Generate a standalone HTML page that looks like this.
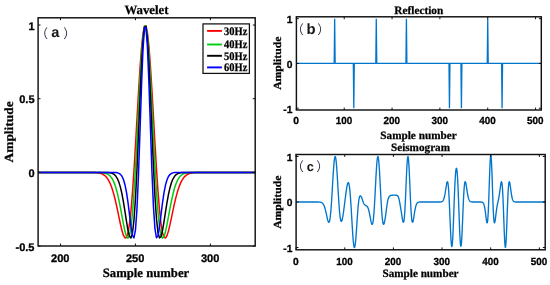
<!DOCTYPE html>
<html lang="en"><head><meta charset="utf-8"><title>Wavelet, Reflection, Seismogram</title>
<style>html,body{margin:0;padding:0;background:#fff}svg{display:block;text-rendering:geometricPrecision}.t{font-family:"Liberation Sans",sans-serif;font-weight:bold;fill:#000;stroke:#000;stroke-width:.3px}.s{font-family:"Liberation Serif",serif;font-weight:bold;fill:#000;stroke:#000;stroke-width:.25px}.p{font-family:"Liberation Sans","Noto Sans CJK SC",sans-serif;fill:#1a1a1a}</style></head><body>
<svg width="550" height="285" viewBox="0 0 550 285">
<rect width="550" height="285" fill="#fff"/>
<g fill="none" stroke-width="1.5" stroke-linejoin="round">
<polyline stroke="#ff0000" points="38.02,172.4 39.51,172.4 41.01,172.4 42.51,172.4 44.01,172.4 45.51,172.4 47.01,172.4 48.51,172.4 50.01,172.4 51.51,172.4 53,172.4 54.5,172.4 56,172.4 57.5,172.4 59,172.4 60.5,172.4 62,172.4 63.5,172.4 65,172.4 66.5,172.4 68,172.4 69.49,172.4 70.99,172.4 72.49,172.4 73.99,172.4 75.49,172.4 76.99,172.4 78.49,172.4 79.99,172.4 81.49,172.4 82.98,172.4 84.48,172.4 85.98,172.41 87.48,172.41 88.98,172.42 90.48,172.43 91.98,172.46 93.48,172.5 94.98,172.57 96.48,172.68 97.97,172.85 99.47,173.12 100.97,173.52 102.47,174.12 103.97,174.98 105.47,176.2 106.97,177.87 108.47,180.11 109.97,183.04 111.47,186.75 112.97,191.33 114.46,196.78 115.96,203.03 117.46,209.93 118.96,217.14 120.46,224.22 121.96,230.56 123.46,235.41 124.96,237.98 126.46,237.43 127.95,233.02 129.45,224.21 130.95,210.74 132.45,192.72 133.95,170.73 135.45,145.78 136.95,119.3 138.45,93.03 139.95,68.85 141.45,48.63 142.94,33.99 144.44,26.15 145.94,25.77 147.44,32.88 148.94,46.89 150.44,66.62 151.94,90.48 153.44,116.63 154.94,143.17 156.44,168.34 157.94,190.69 159.43,209.13 160.93,223.08 162.43,232.35 163.93,237.17 165.43,238.07 166.93,235.78 168.43,231.12 169.93,224.9 171.43,217.87 172.93,210.64 174.42,203.7 175.92,197.37 177.42,191.83 178.92,187.17 180.42,183.37 181.92,180.37 183.42,178.07 184.92,176.34 186.42,175.09 187.92,174.2 189.41,173.57 190.91,173.15 192.41,172.87 193.91,172.69 195.41,172.58 196.91,172.5 198.41,172.46 199.91,172.43 201.41,172.42 202.91,172.41 204.4,172.41 205.9,172.4 207.4,172.4 208.9,172.4 210.4,172.4 211.9,172.4 213.4,172.4 214.9,172.4 216.4,172.4 217.9,172.4 219.39,172.4 220.89,172.4 222.39,172.4 223.89,172.4 225.39,172.4 226.89,172.4 228.39,172.4 229.89,172.4 231.39,172.4 232.89,172.4 234.38,172.4 235.88,172.4 237.38,172.4 238.88,172.4 240.38,172.4 241.88,172.4 243.38,172.4 244.88,172.4 246.38,172.4 247.88,172.4 249.37,172.4 250.87,172.4 252.37,172.4 253.87,172.4 255.37,172.4"/>
<polyline stroke="#00cc10" points="38.02,172.4 39.51,172.4 41.01,172.4 42.51,172.4 44.01,172.4 45.51,172.4 47.01,172.4 48.51,172.4 50.01,172.4 51.51,172.4 53,172.4 54.5,172.4 56,172.4 57.5,172.4 59,172.4 60.5,172.4 62,172.4 63.5,172.4 65,172.4 66.5,172.4 68,172.4 69.49,172.4 70.99,172.4 72.49,172.4 73.99,172.4 75.49,172.4 76.99,172.4 78.49,172.4 79.99,172.4 81.49,172.4 82.98,172.4 84.48,172.4 85.98,172.4 87.48,172.4 88.98,172.4 90.48,172.4 91.98,172.4 93.48,172.41 94.98,172.41 96.48,172.42 97.97,172.45 99.47,172.49 100.97,172.56 102.47,172.69 103.97,172.9 105.47,173.24 106.97,173.78 108.47,174.61 109.97,175.86 111.47,177.66 112.97,180.18 114.46,183.6 115.96,188.05 117.46,193.62 118.96,200.31 120.46,207.93 121.96,216.09 123.46,224.17 124.96,231.29 126.46,236.36 127.95,238.17 129.45,235.55 130.95,227.51 132.45,213.5 133.95,193.55 135.45,168.43 136.95,139.64 138.45,109.39 139.95,80.31 141.45,55.18 142.94,36.58 144.44,26.49 145.94,26 147.44,35.16 148.94,52.99 150.44,77.57 151.94,106.38 153.44,136.64 154.94,165.68 156.44,191.25 157.94,211.76 159.43,226.38 160.93,235 162.43,238.13 163.93,236.71 165.43,231.91 166.93,224.95 168.43,216.92 169.93,208.73 171.43,201.04 172.93,194.24 174.42,188.55 175.92,183.99 177.42,180.48 178.92,177.88 180.42,176.01 181.92,174.72 183.42,173.85 184.92,173.28 186.42,172.92 187.92,172.7 189.41,172.57 190.91,172.49 192.41,172.45 193.91,172.43 195.41,172.41 196.91,172.41 198.41,172.4 199.91,172.4 201.41,172.4 202.91,172.4 204.4,172.4 205.9,172.4 207.4,172.4 208.9,172.4 210.4,172.4 211.9,172.4 213.4,172.4 214.9,172.4 216.4,172.4 217.9,172.4 219.39,172.4 220.89,172.4 222.39,172.4 223.89,172.4 225.39,172.4 226.89,172.4 228.39,172.4 229.89,172.4 231.39,172.4 232.89,172.4 234.38,172.4 235.88,172.4 237.38,172.4 238.88,172.4 240.38,172.4 241.88,172.4 243.38,172.4 244.88,172.4 246.38,172.4 247.88,172.4 249.37,172.4 250.87,172.4 252.37,172.4 253.87,172.4 255.37,172.4"/>
<polyline stroke="#000000" points="38.02,172.4 39.51,172.4 41.01,172.4 42.51,172.4 44.01,172.4 45.51,172.4 47.01,172.4 48.51,172.4 50.01,172.4 51.51,172.4 53,172.4 54.5,172.4 56,172.4 57.5,172.4 59,172.4 60.5,172.4 62,172.4 63.5,172.4 65,172.4 66.5,172.4 68,172.4 69.49,172.4 70.99,172.4 72.49,172.4 73.99,172.4 75.49,172.4 76.99,172.4 78.49,172.4 79.99,172.4 81.49,172.4 82.98,172.4 84.48,172.4 85.98,172.4 87.48,172.4 88.98,172.4 90.48,172.4 91.98,172.4 93.48,172.4 94.98,172.4 96.48,172.4 97.97,172.4 99.47,172.4 100.97,172.4 102.47,172.41 103.97,172.42 105.47,172.45 106.97,172.5 108.47,172.6 109.97,172.79 111.47,173.13 112.97,173.72 114.46,174.72 115.96,176.32 117.46,178.77 118.96,182.36 120.46,187.36 121.96,193.93 123.46,202.06 124.96,211.4 126.46,221.15 127.95,230.05 129.45,236.35 130.95,238.05 132.45,233.19 133.95,220.3 135.45,198.91 136.95,169.87 138.45,135.54 139.95,99.63 141.45,66.67 142.94,41.24 144.44,27.1 145.94,26.41 147.44,39.27 148.94,63.72 150.44,96.13 151.94,131.95 153.44,166.62 154.94,196.32 156.44,218.54 157.94,232.28 159.43,237.89 160.93,236.77 162.43,230.83 163.93,222.11 165.43,212.37 166.93,202.95 168.43,194.68 169.93,187.94 171.43,182.79 172.93,179.08 174.42,176.52 175.92,174.85 177.42,173.8 178.92,173.17 180.42,172.81 181.92,172.61 183.42,172.5 184.92,172.45 186.42,172.42 187.92,172.41 189.41,172.4 190.91,172.4 192.41,172.4 193.91,172.4 195.41,172.4 196.91,172.4 198.41,172.4 199.91,172.4 201.41,172.4 202.91,172.4 204.4,172.4 205.9,172.4 207.4,172.4 208.9,172.4 210.4,172.4 211.9,172.4 213.4,172.4 214.9,172.4 216.4,172.4 217.9,172.4 219.39,172.4 220.89,172.4 222.39,172.4 223.89,172.4 225.39,172.4 226.89,172.4 228.39,172.4 229.89,172.4 231.39,172.4 232.89,172.4 234.38,172.4 235.88,172.4 237.38,172.4 238.88,172.4 240.38,172.4 241.88,172.4 243.38,172.4 244.88,172.4 246.38,172.4 247.88,172.4 249.37,172.4 250.87,172.4 252.37,172.4 253.87,172.4 255.37,172.4"/>
<polyline stroke="#0000ff" points="38.02,172.4 39.51,172.4 41.01,172.4 42.51,172.4 44.01,172.4 45.51,172.4 47.01,172.4 48.51,172.4 50.01,172.4 51.51,172.4 53,172.4 54.5,172.4 56,172.4 57.5,172.4 59,172.4 60.5,172.4 62,172.4 63.5,172.4 65,172.4 66.5,172.4 68,172.4 69.49,172.4 70.99,172.4 72.49,172.4 73.99,172.4 75.49,172.4 76.99,172.4 78.49,172.4 79.99,172.4 81.49,172.4 82.98,172.4 84.48,172.4 85.98,172.4 87.48,172.4 88.98,172.4 90.48,172.4 91.98,172.4 93.48,172.4 94.98,172.4 96.48,172.4 97.97,172.4 99.47,172.4 100.97,172.4 102.47,172.4 103.97,172.4 105.47,172.4 106.97,172.4 108.47,172.4 109.97,172.4 111.47,172.41 112.97,172.43 114.46,172.48 115.96,172.59 117.46,172.84 118.96,173.37 120.46,174.4 121.96,176.29 123.46,179.54 124.96,184.69 126.46,192.21 127.95,202.23 129.45,214.11 130.95,226.13 132.45,235.36 133.95,237.98 135.45,230.1 136.95,209.18 138.45,175.39 139.95,132.53 141.45,87.79 142.94,50.24 144.44,28.32 145.94,27.23 147.44,47.23 148.94,83.56 150.44,128 151.94,171.42 153.44,206.35 154.94,228.62 156.44,237.72 157.94,235.99 159.43,227.23 160.93,215.34 162.43,203.35 163.93,193.11 165.43,185.33 166.93,179.96 168.43,176.55 169.93,174.54 171.43,173.44 172.93,172.88 174.42,172.61 175.92,172.49 177.42,172.43 178.92,172.41 180.42,172.4 181.92,172.4 183.42,172.4 184.92,172.4 186.42,172.4 187.92,172.4 189.41,172.4 190.91,172.4 192.41,172.4 193.91,172.4 195.41,172.4 196.91,172.4 198.41,172.4 199.91,172.4 201.41,172.4 202.91,172.4 204.4,172.4 205.9,172.4 207.4,172.4 208.9,172.4 210.4,172.4 211.9,172.4 213.4,172.4 214.9,172.4 216.4,172.4 217.9,172.4 219.39,172.4 220.89,172.4 222.39,172.4 223.89,172.4 225.39,172.4 226.89,172.4 228.39,172.4 229.89,172.4 231.39,172.4 232.89,172.4 234.38,172.4 235.88,172.4 237.38,172.4 238.88,172.4 240.38,172.4 241.88,172.4 243.38,172.4 244.88,172.4 246.38,172.4 247.88,172.4 249.37,172.4 250.87,172.4 252.37,172.4 253.87,172.4 255.37,172.4"/>
</g>
<rect x="38.1" y="17.8" width="217.1" height="228.2" fill="none" stroke="#111" stroke-width="1.45"/>
<path d="M60.5 246v-2.4 M60.5 17.8v2.4 M135.45 246v-2.4 M135.45 17.8v2.4 M210.4 246v-2.4 M210.4 17.8v2.4 M38.1 246.1h2.4 M255.2 246.1h-2.4 M38.1 172.4h2.4 M255.2 172.4h-2.4 M38.1 98.7h2.4 M255.2 98.7h-2.4 M38.1 25h2.4 M255.2 25h-2.4" stroke="#111" stroke-width="1" fill="none"/>
<rect x="203" y="23.9" width="46.4" height="49.5" fill="#fff" stroke="#111" stroke-width="1.25"/>
<path d="M207.1 30.9H221.9" stroke="#ff0000" stroke-width="1.9"/>
<text class="s" x="224" y="34.8" font-size="11.5" textLength="23.3" lengthAdjust="spacingAndGlyphs">30Hz</text>
<path d="M207.1 44.5H221.9" stroke="#00cc10" stroke-width="1.9"/>
<text class="s" x="224" y="48" font-size="11.5" textLength="23.3" lengthAdjust="spacingAndGlyphs">40Hz</text>
<path d="M207.1 55.8H221.9" stroke="#000000" stroke-width="1.9"/>
<text class="s" x="224" y="59.6" font-size="11.5" textLength="23.3" lengthAdjust="spacingAndGlyphs">50Hz</text>
<path d="M207.1 67.4H221.9" stroke="#0000ff" stroke-width="1.9"/>
<text class="s" x="224" y="71.2" font-size="11.5" textLength="23.3" lengthAdjust="spacingAndGlyphs">60Hz</text>
<text class="t" x="34.5" y="29.6" font-size="11" text-anchor="end">1</text>
<text class="t" x="34.5" y="103.3" font-size="11" text-anchor="end">0.5</text>
<text class="t" x="34.5" y="177" font-size="11" text-anchor="end">0</text>
<text class="t" x="34.5" y="250.7" font-size="11" text-anchor="end">-0.5</text>
<text class="t" x="60.2" y="262.1" font-size="11" text-anchor="middle">200</text>
<text class="t" x="135.15" y="262.1" font-size="11" text-anchor="middle">250</text>
<text class="t" x="210.1" y="262.1" font-size="11" text-anchor="middle">300</text>
<text class="s" x="146.5" y="14.2" font-size="12.8" text-anchor="middle">Wavelet</text>
<text class="s" x="146" y="276.6" font-size="12.7" text-anchor="middle">Sample number</text>
<text class="s" transform="translate(13.4 131.9) rotate(-90)" font-size="12.4" text-anchor="middle" textLength="61" lengthAdjust="spacingAndGlyphs">Amplitude</text>
<text class="p"><tspan x="35.5" y="37.6" font-size="12.6" font-weight="400" fill="#2b3345">（</tspan><tspan x="51.3" y="37" font-size="14.6" font-weight="bold" fill="#151515">a</tspan><tspan x="63.3" y="37.6" font-size="12.6" font-weight="400" fill="#2b3345">）</tspan></text>
<polyline fill="none" stroke="#0075cc" stroke-width="1.3" stroke-linejoin="miter" points="296.4,63.45 334.19,63.45 334.67,18.7 335.14,63.45 353.32,63.45 353.8,108.2 354.28,63.45 375.8,63.45 376.28,18.7 376.76,63.45 405.94,63.45 406.41,18.7 406.89,63.45 448.98,63.45 449.46,108.2 449.94,63.45 460.94,63.45 461.42,108.2 461.9,63.45 487.25,63.45 487.73,18.7 488.21,63.45 501.6,63.45 502.08,108.2 502.56,63.45 541.3,63.45"/>
<rect x="296.4" y="16.8" width="244.9" height="93.2" fill="none" stroke="#111" stroke-width="1.45"/>
<path d="M296.4 110v-2.4 M296.4 16.8v2.4 M344.23 110v-2.4 M344.23 16.8v2.4 M392.06 110v-2.4 M392.06 16.8v2.4 M439.9 110v-2.4 M439.9 16.8v2.4 M487.73 110v-2.4 M487.73 16.8v2.4 M535.56 110v-2.4 M535.56 16.8v2.4 M296.4 108.2h2.4 M541.3 108.2h-2.4 M296.4 63.45h2.4 M541.3 63.45h-2.4 M296.4 18.7h2.4 M541.3 18.7h-2.4" stroke="#111" stroke-width="1" fill="none"/>
<text class="t" x="292.4" y="23.2" font-size="10.3" text-anchor="end">1</text>
<text class="t" x="292.4" y="67.95" font-size="10.3" text-anchor="end">0</text>
<text class="t" x="292.4" y="112.7" font-size="10.3" text-anchor="end">-1</text>
<text class="t" x="296.2" y="124.3" font-size="10.3" text-anchor="middle">0</text>
<text class="t" x="344.03" y="124.3" font-size="10.3" text-anchor="middle" textLength="16.5" lengthAdjust="spacingAndGlyphs">100</text>
<text class="t" x="391.86" y="124.3" font-size="10.3" text-anchor="middle" textLength="16.5" lengthAdjust="spacingAndGlyphs">200</text>
<text class="t" x="439.7" y="124.3" font-size="10.3" text-anchor="middle" textLength="16.5" lengthAdjust="spacingAndGlyphs">300</text>
<text class="t" x="487.53" y="124.3" font-size="10.3" text-anchor="middle" textLength="16.5" lengthAdjust="spacingAndGlyphs">400</text>
<text class="t" x="535.36" y="124.3" font-size="10.3" text-anchor="middle" textLength="16.5" lengthAdjust="spacingAndGlyphs">500</text>
<text class="s" x="418.8" y="14" font-size="11.3" text-anchor="middle">Reflection</text>
<text class="s" x="418.5" y="139.1" font-size="11.2" text-anchor="middle" textLength="76.4" lengthAdjust="spacingAndGlyphs">Sample number</text>
<text class="s" transform="translate(281.4 63.2) rotate(-90)" font-size="10.9" text-anchor="middle" textLength="53.3" lengthAdjust="spacingAndGlyphs">Amplitude</text>
<text class="p"><tspan x="291.3" y="33.5" font-size="12.6" font-weight="400" fill="#2b3345">（</tspan><tspan x="306.6" y="33.8" font-size="14.8" font-weight="bold" fill="#151515">b</tspan><tspan x="317.3" y="33.5" font-size="12.6" font-weight="400" fill="#2b3345">）</tspan></text>
<polyline fill="none" stroke="#0075cc" stroke-width="1.35" stroke-linejoin="round" points="296.1,202 296.34,202 296.59,202 296.83,202 297.07,202 297.32,202 297.56,202 297.8,202 298.05,202 298.29,202 298.53,202 298.78,202 299.02,202 299.26,202 299.51,202 299.75,202 299.99,202 300.24,202 300.48,202 300.72,202 300.97,202 301.21,202 301.45,202 301.69,202 301.94,202 302.18,202 302.42,202 302.67,202 302.91,202 303.15,202 303.4,202 303.64,202 303.88,202 304.13,202 304.37,202 304.61,202 304.86,202 305.1,202 305.34,202 305.59,202 305.83,202 306.07,202 306.32,202 306.56,202 306.8,202 307.05,202 307.29,202 307.53,202 307.78,202 308.02,202 308.26,202 308.51,202 308.75,202 308.99,202 309.24,202 309.48,202 309.72,202 309.97,202 310.21,202 310.45,202 310.7,202 310.94,202 311.18,202 311.43,202 311.67,202 311.91,202 312.16,202 312.4,202 312.64,202 312.88,202 313.13,202 313.37,202 313.61,202 313.86,202 314.1,202 314.34,202 314.59,202 314.83,202 315.07,202 315.32,202 315.56,202 315.8,202 316.05,202 316.29,202 316.53,202 316.78,202 317.02,202 317.26,202.01 317.51,202.01 317.75,202.01 317.99,202.02 318.24,202.02 318.48,202.03 318.72,202.03 318.97,202.05 319.21,202.06 319.45,202.08 319.7,202.1 319.94,202.12 320.18,202.16 320.43,202.2 320.67,202.25 320.91,202.32 321.16,202.4 321.4,202.49 321.64,202.61 321.89,202.75 322.13,202.91 322.37,203.11 322.62,203.34 322.86,203.61 323.1,203.92 323.35,204.28 323.59,204.7 323.83,205.17 324.07,205.71 324.32,206.31 324.56,206.98 324.8,207.72 325.05,208.53 325.29,209.41 325.53,210.36 325.78,211.36 326.02,212.42 326.26,213.52 326.51,214.64 326.75,215.78 326.99,216.9 327.24,217.99 327.48,219.03 327.72,219.98 327.97,220.81 328.21,221.49 328.45,221.98 328.7,222.26 328.94,222.28 329.18,222.03 329.43,221.46 329.67,220.56 329.91,219.3 330.16,217.67 330.4,215.67 330.64,213.3 330.89,210.57 331.13,207.5 331.37,204.12 331.62,200.47 331.86,196.59 332.1,192.55 332.35,188.4 332.59,184.22 332.83,180.08 333.08,176.06 333.32,172.23 333.56,168.68 333.81,165.46 334.05,162.66 334.29,160.33 334.54,158.52 334.78,157.27 335.02,156.61 335.26,156.55 335.51,157.09 335.75,158.22 335.99,159.92 336.24,162.15 336.48,164.86 336.72,168 336.97,171.49 337.21,175.26 337.45,179.25 337.7,183.36 337.94,187.53 338.18,191.68 338.43,195.74 338.67,199.64 338.91,203.32 339.16,206.73 339.4,209.83 339.64,212.59 339.89,214.99 340.13,217 340.37,218.62 340.62,219.86 340.86,220.72 341.1,221.22 341.35,221.38 341.59,221.22 341.83,220.77 342.08,220.05 342.32,219.1 342.56,217.95 342.81,216.61 343.05,215.13 343.29,213.52 343.54,211.82 343.78,210.02 344.02,208.17 344.27,206.27 344.51,204.34 344.75,202.39 345,200.44 345.24,198.5 345.48,196.59 345.73,194.71 345.97,192.89 346.21,191.15 346.45,189.5 346.7,187.96 346.94,186.57 347.18,185.34 347.43,184.3 347.67,183.49 347.91,182.93 348.16,182.65 348.4,182.68 348.64,183.03 348.89,183.75 349.13,184.84 349.37,186.3 349.62,188.16 349.86,190.4 350.1,193.02 350.35,195.99 350.59,199.28 350.83,202.86 351.08,206.68 351.32,210.68 351.56,214.8 351.81,218.97 352.05,223.12 352.29,227.17 352.54,231.04 352.78,234.65 353.02,237.94 353.27,240.83 353.51,243.26 353.75,245.19 354,246.57 354.24,247.37 354.48,247.58 354.73,247.2 354.97,246.24 355.21,244.72 355.46,242.7 355.7,240.21 355.94,237.33 356.19,234.13 356.43,230.69 356.67,227.08 356.92,223.4 357.16,219.73 357.4,216.15 357.64,212.74 357.89,209.56 358.13,206.67 358.37,204.1 358.62,201.89 358.86,200.04 359.1,198.57 359.35,197.44 359.59,196.65 359.83,196.14 360.08,195.89 360.32,195.84 360.56,195.95 360.81,196.16 361.05,196.44 361.29,196.82 361.54,197.33 361.78,197.94 362.02,198.61 362.27,199.32 362.51,200.05 362.75,200.77 363,201.46 363.24,202.11 363.48,202.71 363.73,203.25 363.97,203.72 364.21,204.13 364.46,204.47 364.7,204.76 364.94,204.99 365.19,205.17 365.43,205.32 365.67,205.45 365.92,205.56 366.16,205.67 366.4,205.8 366.65,205.95 366.89,206.15 367.13,206.39 367.38,206.71 367.62,207.1 367.86,207.58 368.1,208.15 368.35,208.83 368.59,209.62 368.83,210.51 369.08,211.52 369.32,212.61 369.56,213.8 369.81,215.06 370.05,216.36 370.29,217.69 370.54,219 370.78,220.27 371.02,221.45 371.27,222.49 371.51,223.36 371.75,223.99 372,224.35 372.24,224.39 372.48,224.07 372.73,223.34 372.97,222.18 373.21,220.56 373.46,218.48 373.7,215.93 373.94,212.92 374.19,209.49 374.43,205.67 374.67,201.51 374.92,197.08 375.16,192.46 375.4,187.74 375.65,183.01 375.89,178.39 376.13,173.96 376.38,169.85 376.62,166.14 376.86,162.94 377.11,160.32 377.35,158.35 377.59,157.08 377.84,156.55 378.08,156.77 378.32,157.73 378.57,159.4 378.81,161.75 379.05,164.71 379.29,168.21 379.54,172.15 379.78,176.43 380.02,180.96 380.27,185.63 380.51,190.34 380.75,194.99 381,199.49 381.24,203.76 381.48,207.72 381.73,211.32 381.97,214.52 382.21,217.27 382.46,219.57 382.7,221.4 382.94,222.77 383.19,223.68 383.43,224.17 383.67,224.26 383.92,223.99 384.16,223.4 384.4,222.53 384.65,221.43 384.89,220.13 385.13,218.68 385.38,217.1 385.62,215.42 385.86,213.66 386.11,211.83 386.35,209.96 386.59,208.08 386.84,206.25 387.08,204.51 387.32,202.93 387.57,201.54 387.81,200.36 388.05,199.36 388.3,198.55 388.54,197.88 388.78,197.35 389.03,196.91 389.27,196.56 389.51,196.27 389.76,196.04 390,195.86 390.24,195.71 390.48,195.59 390.73,195.5 390.97,195.43 391.21,195.37 391.46,195.32 391.7,195.29 391.94,195.26 392.19,195.24 392.43,195.22 392.67,195.21 392.92,195.2 393.16,195.19 393.4,195.19 393.65,195.19 393.89,195.18 394.13,195.18 394.38,195.18 394.62,195.18 394.86,195.19 395.11,195.19 395.35,195.2 395.59,195.21 395.84,195.22 396.08,195.24 396.32,195.27 396.57,195.31 396.81,195.38 397.05,195.46 397.3,195.59 397.54,195.76 397.78,196.01 398.03,196.34 398.27,196.79 398.51,197.38 398.76,198.13 399,199.06 399.24,200.13 399.49,201.33 399.73,202.62 399.97,203.96 400.22,205.33 400.46,206.72 400.7,208.16 400.95,209.64 401.19,211.18 401.43,212.77 401.67,214.39 401.92,216.01 402.16,217.58 402.4,219.05 402.65,220.34 402.89,221.36 403.13,222.05 403.38,222.3 403.62,222.03 403.86,221.16 404.11,219.65 404.35,217.43 404.59,214.5 404.84,210.87 405.08,206.58 405.32,201.72 405.57,196.41 405.81,190.78 406.05,185 406.3,179.28 406.54,173.82 406.78,168.81 407.03,164.45 407.27,160.92 407.51,158.36 407.76,156.87 408,156.52 408.24,157.33 408.49,159.26 408.73,162.22 408.97,166.1 409.22,170.74 409.46,175.96 409.7,181.55 409.95,187.32 410.19,193.05 410.43,198.58 410.68,203.73 410.92,208.37 411.16,212.4 411.41,215.76 411.65,218.4 411.89,220.34 412.14,221.59 412.38,222.21 412.62,222.26 412.86,221.84 413.11,221.01 413.35,219.89 413.59,218.54 413.84,217.05 414.08,215.49 414.32,213.92 414.57,212.4 414.81,210.95 415.05,209.61 415.3,208.39 415.54,207.31 415.78,206.36 416.03,205.54 416.27,204.84 416.51,204.25 416.76,203.77 417,203.38 417.24,203.06 417.49,202.81 417.73,202.61 417.97,202.45 418.22,202.34 418.46,202.25 418.7,202.18 418.95,202.13 419.19,202.09 419.43,202.06 419.68,202.04 419.92,202.03 420.16,202.02 420.41,202.01 420.65,202.01 420.89,202.01 421.14,202 421.38,202 421.62,202 421.87,202 422.11,202 422.35,202 422.6,202 422.84,202 423.08,202 423.32,202 423.57,202 423.81,202 424.05,202 424.3,202 424.54,202 424.78,202 425.03,202 425.27,202 425.51,202 425.76,202 426,202 426.24,202 426.49,202 426.73,202 426.97,202 427.22,202 427.46,202 427.7,202 427.95,202 428.19,202 428.43,202 428.68,202 428.92,202 429.16,202 429.41,202 429.65,202 429.89,202 430.14,202 430.38,202 430.62,202 430.87,202 431.11,202 431.35,202 431.6,202 431.84,202 432.08,202 432.33,202 432.57,202 432.81,202 433.06,202 433.3,202 433.54,202 433.79,202 434.03,202 434.27,202 434.51,202 434.76,202 435,202 435.24,202 435.49,202 435.73,202 435.97,202 436.22,202 436.46,202 436.7,202 436.95,202 437.19,202 437.43,202 437.68,202 437.92,202 438.16,202 438.41,202 438.65,202 438.89,202 439.14,201.99 439.38,201.99 439.62,201.99 439.87,201.98 440.11,201.97 440.35,201.96 440.6,201.94 440.84,201.92 441.08,201.88 441.33,201.83 441.57,201.76 441.81,201.67 442.06,201.56 442.3,201.4 442.54,201.2 442.79,200.94 443.03,200.62 443.27,200.22 443.52,199.72 443.76,199.11 444,198.39 444.25,197.54 444.49,196.55 444.73,195.42 444.98,194.15 445.22,192.76 445.46,191.26 445.7,189.69 445.95,188.09 446.19,186.51 446.43,185.02 446.68,183.71 446.92,182.65 447.16,181.95 447.41,181.69 447.65,181.98 447.89,182.88 448.14,184.47 448.38,186.79 448.62,189.85 448.87,193.64 449.11,198.1 449.35,203.14 449.6,208.63 449.84,214.41 450.08,220.28 450.33,226.04 450.57,231.47 450.81,236.34 451.06,240.45 451.3,243.61 451.54,245.67 451.79,246.54 452.03,246.15 452.27,244.5 452.52,241.65 452.76,237.68 453,232.76 453.25,227.06 453.49,220.79 453.73,214.17 453.98,207.44 454.22,200.81 454.46,194.48 454.71,188.61 454.95,183.36 455.19,178.81 455.44,175.03 455.68,172.07 455.92,169.95 456.17,168.67 456.41,168.24 456.65,168.66 456.89,169.94 457.14,172.1 457.38,175.11 457.62,178.98 457.87,183.66 458.11,189.07 458.35,195.11 458.6,201.62 458.84,208.43 459.08,215.3 459.33,222.01 459.57,228.3 459.81,233.95 460.06,238.73 460.3,242.45 460.54,244.97 460.79,246.21 461.03,246.12 461.27,244.74 461.52,242.14 461.76,238.45 462,233.87 462.25,228.59 462.49,222.85 462.73,216.88 462.98,210.92 463.22,205.18 463.46,199.84 463.71,195.07 463.95,190.96 464.19,187.61 464.44,185.02 464.68,183.21 464.92,182.12 465.17,181.7 465.41,181.87 465.65,182.51 465.9,183.54 466.14,184.86 466.38,186.36 466.63,187.97 466.87,189.61 467.11,191.22 467.36,192.75 467.6,194.18 467.84,195.47 468.08,196.61 468.33,197.62 468.57,198.47 468.81,199.2 469.06,199.8 469.3,200.29 469.54,200.69 469.79,201.01 470.03,201.25 470.27,201.45 470.52,201.59 470.76,201.71 471,201.79 471.25,201.85 471.49,201.89 471.73,201.93 471.98,201.95 472.22,201.97 472.46,201.98 472.71,201.98 472.95,201.99 473.19,201.99 473.44,202 473.68,202 473.92,202 474.17,202 474.41,202 474.65,202 474.9,202 475.14,202 475.38,202 475.63,202 475.87,202 476.11,202 476.36,202 476.6,202 476.84,202 477.09,202 477.33,202 477.57,202 477.82,202 478.06,202 478.3,202 478.55,202 478.79,202 479.03,202 479.27,202 479.52,202 479.76,202 480,202 480.25,202.01 480.49,202.01 480.73,202.01 480.98,202.02 481.22,202.04 481.46,202.06 481.71,202.09 481.95,202.14 482.19,202.21 482.44,202.31 482.68,202.45 482.92,202.65 483.17,202.92 483.41,203.28 483.65,203.75 483.9,204.36 484.14,205.13 484.38,206.09 484.63,207.24 484.87,208.61 485.11,210.18 485.36,211.95 485.6,213.85 485.84,215.84 486.09,217.82 486.33,219.67 486.57,221.24 486.82,222.38 487.06,222.9 487.3,222.64 487.55,221.45 487.79,219.21 488.03,215.86 488.28,211.39 488.52,205.89 488.76,199.52 489.01,192.51 489.25,185.18 489.49,177.9 489.73,171.06 489.98,165.05 490.22,160.23 490.46,156.91 490.71,155.28 490.95,155.46 491.19,157.44 491.44,161.08 491.68,166.17 491.92,172.37 492.17,179.34 492.41,186.66 492.65,193.95 492.9,200.85 493.14,207.07 493.38,212.37 493.63,216.62 493.87,219.74 494.11,221.77 494.36,222.76 494.6,222.84 494.84,222.18 495.09,220.93 495.33,219.28 495.57,217.38 495.82,215.36 496.06,213.33 496.3,211.39 496.55,209.57 496.79,207.92 497.03,206.43 497.28,205.08 497.52,203.87 497.76,202.74 498.01,201.66 498.25,200.57 498.49,199.45 498.74,198.24 498.98,196.93 499.22,195.48 499.47,193.89 499.71,192.17 499.95,190.35 500.2,188.48 500.44,186.64 500.68,184.92 500.92,183.44 501.17,182.34 501.41,181.76 501.65,181.83 501.9,182.7 502.14,184.46 502.38,187.18 502.63,190.89 502.87,195.54 503.11,201.04 503.36,207.21 503.6,213.83 503.84,220.61 504.09,227.25 504.33,233.4 504.57,238.76 504.82,243.02 505.06,245.95 505.3,247.37 505.55,247.21 505.79,245.48 506.03,242.27 506.28,237.77 506.52,232.23 506.76,225.95 507.01,219.26 507.25,212.48 507.49,205.93 507.74,199.88 507.98,194.54 508.22,190.07 508.47,186.56 508.71,184.03 508.95,182.45 509.2,181.75 509.44,181.82 509.68,182.51 509.93,183.7 510.17,185.22 510.41,186.96 510.66,188.79 510.9,190.62 511.14,192.38 511.39,194.01 511.63,195.47 511.87,196.75 512.11,197.84 512.36,198.76 512.6,199.51 512.84,200.12 513.09,200.6 513.33,200.97 513.57,201.25 513.82,201.47 514.06,201.62 514.3,201.74 514.55,201.82 514.79,201.88 515.03,201.92 515.28,201.95 515.52,201.97 515.76,201.98 516.01,201.99 516.25,201.99 516.49,201.99 516.74,202 516.98,202 517.22,202 517.47,202 517.71,202 517.95,202 518.2,202 518.44,202 518.68,202 518.93,202 519.17,202 519.41,202 519.66,202 519.9,202 520.14,202 520.39,202 520.63,202 520.87,202 521.12,202 521.36,202 521.6,202 521.85,202 522.09,202 522.33,202 522.58,202 522.82,202 523.06,202 523.3,202 523.55,202 523.79,202 524.03,202 524.28,202 524.52,202 524.76,202 525.01,202 525.25,202 525.49,202 525.74,202 525.98,202 526.22,202 526.47,202 526.71,202 526.95,202 527.2,202 527.44,202 527.68,202 527.93,202 528.17,202 528.41,202 528.66,202 528.9,202 529.14,202 529.39,202 529.63,202 529.87,202 530.12,202 530.36,202 530.6,202 530.85,202 531.09,202 531.33,202 531.58,202 531.82,202 532.06,202 532.31,202 532.55,202 532.79,202 533.04,202 533.28,202 533.52,202 533.77,202 534.01,202 534.25,202 534.49,202 534.74,202 534.98,202 535.22,202 535.47,202 535.71,202 535.95,202 536.2,202 536.44,202 536.68,202 536.93,202 537.17,202 537.41,202 537.66,202 537.9,202 538.14,202 538.39,202 538.63,202 538.87,202 539.12,202 539.36,202 539.6,202 539.85,202 540.09,202 540.33,202 540.58,202 540.82,202 541.06,202 541.31,202 541.55,202 541.79,202 542.04,202 542.28,202 542.52,202 542.77,202 543.01,202 543.25,202 543.5,202 543.74,202 543.98,202 544.23,202 544.47,202 544.71,202 544.95,202 545.2,202"/>
<rect x="296.1" y="154.5" width="249.1" height="95.3" fill="none" stroke="#111" stroke-width="1.45"/>
<path d="M296.1 249.8v-2.4 M296.1 154.5v2.4 M344.75 249.8v-2.4 M344.75 154.5v2.4 M393.4 249.8v-2.4 M393.4 154.5v2.4 M442.06 249.8v-2.4 M442.06 154.5v2.4 M490.71 249.8v-2.4 M490.71 154.5v2.4 M539.36 249.8v-2.4 M539.36 154.5v2.4 M296.1 247.5h2.4 M545.2 247.5h-2.4 M296.1 202h2.4 M545.2 202h-2.4 M296.1 156.5h2.4 M545.2 156.5h-2.4" stroke="#111" stroke-width="1" fill="none"/>
<text class="t" x="292.4" y="160.7" font-size="10.3" text-anchor="end">1</text>
<text class="t" x="292.4" y="206.2" font-size="10.3" text-anchor="end">0</text>
<text class="t" x="292.4" y="251.7" font-size="10.3" text-anchor="end">-1</text>
<text class="t" x="295.8" y="264.7" font-size="10.3" text-anchor="middle">0</text>
<text class="t" x="344.45" y="264.7" font-size="10.3" text-anchor="middle" textLength="16.5" lengthAdjust="spacingAndGlyphs">100</text>
<text class="t" x="393.1" y="264.7" font-size="10.3" text-anchor="middle" textLength="16.5" lengthAdjust="spacingAndGlyphs">200</text>
<text class="t" x="441.76" y="264.7" font-size="10.3" text-anchor="middle" textLength="16.5" lengthAdjust="spacingAndGlyphs">300</text>
<text class="t" x="490.41" y="264.7" font-size="10.3" text-anchor="middle" textLength="16.5" lengthAdjust="spacingAndGlyphs">400</text>
<text class="t" x="539.06" y="264.7" font-size="10.3" text-anchor="middle" textLength="16.5" lengthAdjust="spacingAndGlyphs">500</text>
<text class="s" x="420.5" y="150.9" font-size="11.2" text-anchor="middle">Seismogram</text>
<text class="s" x="420.5" y="277.3" font-size="11.2" text-anchor="middle">Sample number</text>
<text class="s" transform="translate(281.4 202.2) rotate(-90)" font-size="10.9" text-anchor="middle" textLength="53.3" lengthAdjust="spacingAndGlyphs">Amplitude</text>
<text class="p"><tspan x="291.3" y="171.3" font-size="12.6" font-weight="400" fill="#2b3345">（</tspan><tspan x="306.7" y="171.4" font-size="12.8" font-weight="bold" fill="#151515">c</tspan><tspan x="316.3" y="171.3" font-size="12.6" font-weight="400" fill="#2b3345">）</tspan></text>
</svg></body></html>
